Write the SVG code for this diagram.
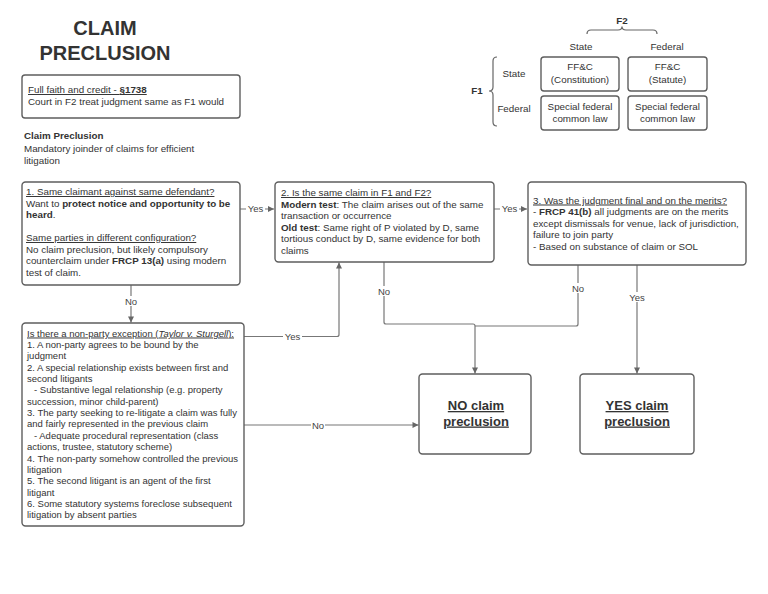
<svg xmlns="http://www.w3.org/2000/svg" width="768" height="594" viewBox="0 0 768 594">
<defs>
<style>
text{font-family:"Liberation Sans",Arial,sans-serif;fill:#333;font-size:9.8px}
.box{fill:#fff;stroke:#5e5e5e;stroke-width:1.4}
.ln{fill:none;stroke:#777;stroke-width:1.2}
.lbl{font-size:9.5px;text-anchor:middle;fill:#444}
.bg{fill:#fff}
.u{text-decoration:underline}
.b{font-weight:bold}
.mid{text-anchor:middle}
.sm{font-size:9.5px}
.big{font-size:13px;font-weight:bold;text-anchor:middle;text-decoration:underline}
</style>
<marker id="ah" viewBox="0 0 10 10" refX="10" refY="5" markerWidth="7" markerHeight="6" markerUnits="userSpaceOnUse" orient="auto">
<path d="M0,0 L10,5 L0,10 z" fill="#666"/>
</marker>
</defs>
<rect width="768" height="594" fill="#fff"/>

<g id="title">
<text x="105" y="35" class="mid" style="font-size:20px;font-weight:bold">CLAIM</text>
<text x="105" y="60" class="mid" style="font-size:20px;font-weight:bold">PRECLUSION</text>
</g>

<g id="ffc-box">
<rect class="box" x="22" y="75" width="218" height="43" rx="3"/>
<text x="28" y="93"><tspan class="u">Full faith and credit - </tspan><tspan class="u b">§1738</tspan></text>
<text x="28" y="104.5">Court in F2 treat judgment same as F1 would</text>
</g>

<g id="claim-preclusion-note">
<text x="24" y="139" class="b">Claim Preclusion</text>
<text x="24" y="152">Mandatory joinder of claims for efficient</text>
<text x="24" y="164">litigation</text>
</g>

<g id="ffc-table">
<text x="622" y="24" class="mid b">F2</text>
<path class="ln" style="stroke:#666" d="M587,34 Q587,30 591,30 L618,30 Q622,30 622,26.5 Q622,30 626,30 L653,30 Q657,30 657,34"/>
<text x="581" y="50" class="mid">State</text>
<text x="667" y="50" class="mid">Federal</text>
<text x="477" y="94" class="mid b">F1</text>
<path class="ln" style="stroke:#666" d="M497,57 Q493,57 493,61 L493,87 Q493,91 489,91 Q493,91 493,95 L493,122 Q493,126 497,126"/>
<text x="514" y="77" class="mid">State</text>
<text x="514" y="111.5" class="mid">Federal</text>
<g id="cell-state-state">
<rect class="box" x="541" y="57" width="78" height="34" rx="3"/>
<text x="580" y="70" class="mid">FF&amp;C</text>
<text x="580" y="82.5" class="mid">(Constitution)</text>
</g>
<g id="cell-state-federal">
<rect class="box" x="628" y="57" width="79" height="34" rx="3"/>
<text x="667.5" y="70" class="mid">FF&amp;C</text>
<text x="667.5" y="82.5" class="mid">(Statute)</text>
</g>
<g id="cell-federal-state">
<rect class="box" x="541" y="96" width="78" height="34" rx="3"/>
<text x="580" y="109.5" class="mid">Special federal</text>
<text x="580" y="121.5" class="mid">common law</text>
</g>
<g id="cell-federal-federal">
<rect class="box" x="628" y="96" width="79" height="34" rx="3"/>
<text x="667.5" y="109.5" class="mid">Special federal</text>
<text x="667.5" y="121.5" class="mid">common law</text>
</g>
</g>

<g id="connectors">
<line class="ln" x1="240" y1="209" x2="274" y2="209" marker-end="url(#ah)"/>
<line class="ln" x1="494" y1="209" x2="527" y2="209" marker-end="url(#ah)"/>
<line class="ln" x1="131" y1="285" x2="131" y2="322.5" marker-end="url(#ah)"/>
<path class="ln" d="M244,336.5 L337,336.5 Q339,336.5 339,334.5 L339,262.5" marker-end="url(#ah)"/>
<path class="ln" d="M384,262 L384,322 Q384,324 386,324 L473,324 Q475,324 475,326 L475,373.5" marker-end="url(#ah)"/>
<path class="ln" d="M578,265 L578,324 Q578,326 576,326 L475,326"/>
<line class="ln" x1="637" y1="265" x2="637" y2="373.5" marker-end="url(#ah)"/>
<line class="ln" x1="244" y1="425" x2="418.5" y2="425" marker-end="url(#ah)"/>
<rect class="bg" x="246" y="204" width="19" height="10"/>
<text class="lbl" x="255.5" y="212.3">Yes</text>
<rect class="bg" x="500" y="204" width="19" height="10"/>
<text class="lbl" x="509.5" y="212.3">Yes</text>
<rect class="bg" x="124" y="296" width="14" height="10"/>
<text class="lbl" x="131" y="304.5">No</text>
<rect class="bg" x="283" y="331.5" width="19" height="10"/>
<text class="lbl" x="292.5" y="340">Yes</text>
<rect class="bg" x="377" y="286" width="14" height="10"/>
<text class="lbl" x="384" y="294.5">No</text>
<rect class="bg" x="571" y="283" width="14" height="10"/>
<text class="lbl" x="578" y="291.5">No</text>
<rect class="bg" x="627.5" y="292" width="19" height="10"/>
<text class="lbl" x="637" y="300.5">Yes</text>
<rect class="bg" x="311" y="420" width="14" height="10"/>
<text class="lbl" x="318" y="428.5">No</text>
</g>

<g id="q1-same-claimant">
<rect class="box" x="22" y="182" width="218" height="103" rx="3.5"/>
<text x="26" y="195" class="u">1. Same claimant against same defendant?</text>
<text x="26" y="206.5">Want to <tspan class="b">protect notice and opportunity to be</tspan></text>
<text x="26" y="218"><tspan class="b">heard</tspan>.</text>
<text x="26" y="241" class="u">Same parties in different configuration?</text>
<text x="26" y="252.5">No claim preclusion, but likely compulsory</text>
<text x="26" y="264">counterclaim under <tspan class="b">FRCP 13(a)</tspan> using modern</text>
<text x="26" y="275.5">test of claim.</text>
</g>

<g id="q2-same-claim">
<rect class="box" x="275" y="182" width="219" height="80" rx="3.5"/>
<text x="281" y="196" class="u">2. Is the same claim in F1 and F2?</text>
<text x="281" y="207.5"><tspan class="b">Modern test</tspan>: The claim arises out of the same</text>
<text x="281" y="219">transaction or occurrence</text>
<text x="281" y="230.6"><tspan class="b">Old test</tspan>: Same right of P violated by D, same</text>
<text x="281" y="242.2">tortious conduct by D, same evidence for both</text>
<text x="281" y="253.8">claims</text>
</g>

<g id="q3-final-merits">
<rect class="box" x="528" y="182" width="218" height="83" rx="3.5"/>
<text x="533" y="203.5" class="u">3. Was the judgment final and on the merits?</text>
<text x="533" y="215">- <tspan class="b">FRCP 41(b)</tspan> all judgments are on the merits</text>
<text x="533" y="226.5">except dismissals for venue, lack of jurisdiction,</text>
<text x="533" y="238">failure to join party</text>
<text x="533" y="249.5">- Based on substance of claim or SOL</text>
</g>

<g id="nonparty-exception" class="sm">
<rect class="box" x="22" y="323" width="222" height="203" rx="3.5"/>
<text x="27" y="336.5" class="u sm">Is there a non-party exception (<tspan font-style="italic">Taylor v. Sturgell</tspan>):</text>
<text x="27" y="347.9" class="sm">1. A non-party agrees to be bound by the</text>
<text x="27" y="359.2" class="sm">judgment</text>
<text x="27" y="370.6" class="sm">2. A special relationship exists between first and</text>
<text x="27" y="381.9" class="sm">second litigants</text>
<text x="34" y="393.3" class="sm">- Substantive legal relationship (e.g. property</text>
<text x="27" y="404.7" class="sm">succession, minor child-parent)</text>
<text x="27" y="416" class="sm">3. The party seeking to re-litigate a claim was fully</text>
<text x="27" y="427.4" class="sm">and fairly represented in the previous claim</text>
<text x="34" y="438.7" class="sm">- Adequate procedural representation (class</text>
<text x="27" y="450.1" class="sm">actions, trustee, statutory scheme)</text>
<text x="27" y="461.5" class="sm">4. The non-party somehow controlled the previous</text>
<text x="27" y="472.8" class="sm">litigation</text>
<text x="27" y="484.2" class="sm">5. The second litigant is an agent of the first</text>
<text x="27" y="495.5" class="sm">litigant</text>
<text x="27" y="506.9" class="sm">6. Some statutory systems foreclose subsequent</text>
<text x="27" y="518.3" class="sm">litigation by absent parties</text>
</g>

<g id="no-preclusion">
<rect class="box" x="419" y="374" width="112" height="80" rx="3.5"/>
<text x="476" y="410" class="big">NO claim</text>
<text x="476" y="425.5" class="big">preclusion</text>
</g>

<g id="yes-preclusion">
<rect class="box" x="580" y="374" width="114" height="80" rx="3.5"/>
<text x="637" y="410" class="big">YES claim</text>
<text x="637" y="425.5" class="big">preclusion</text>
</g>
</svg>
